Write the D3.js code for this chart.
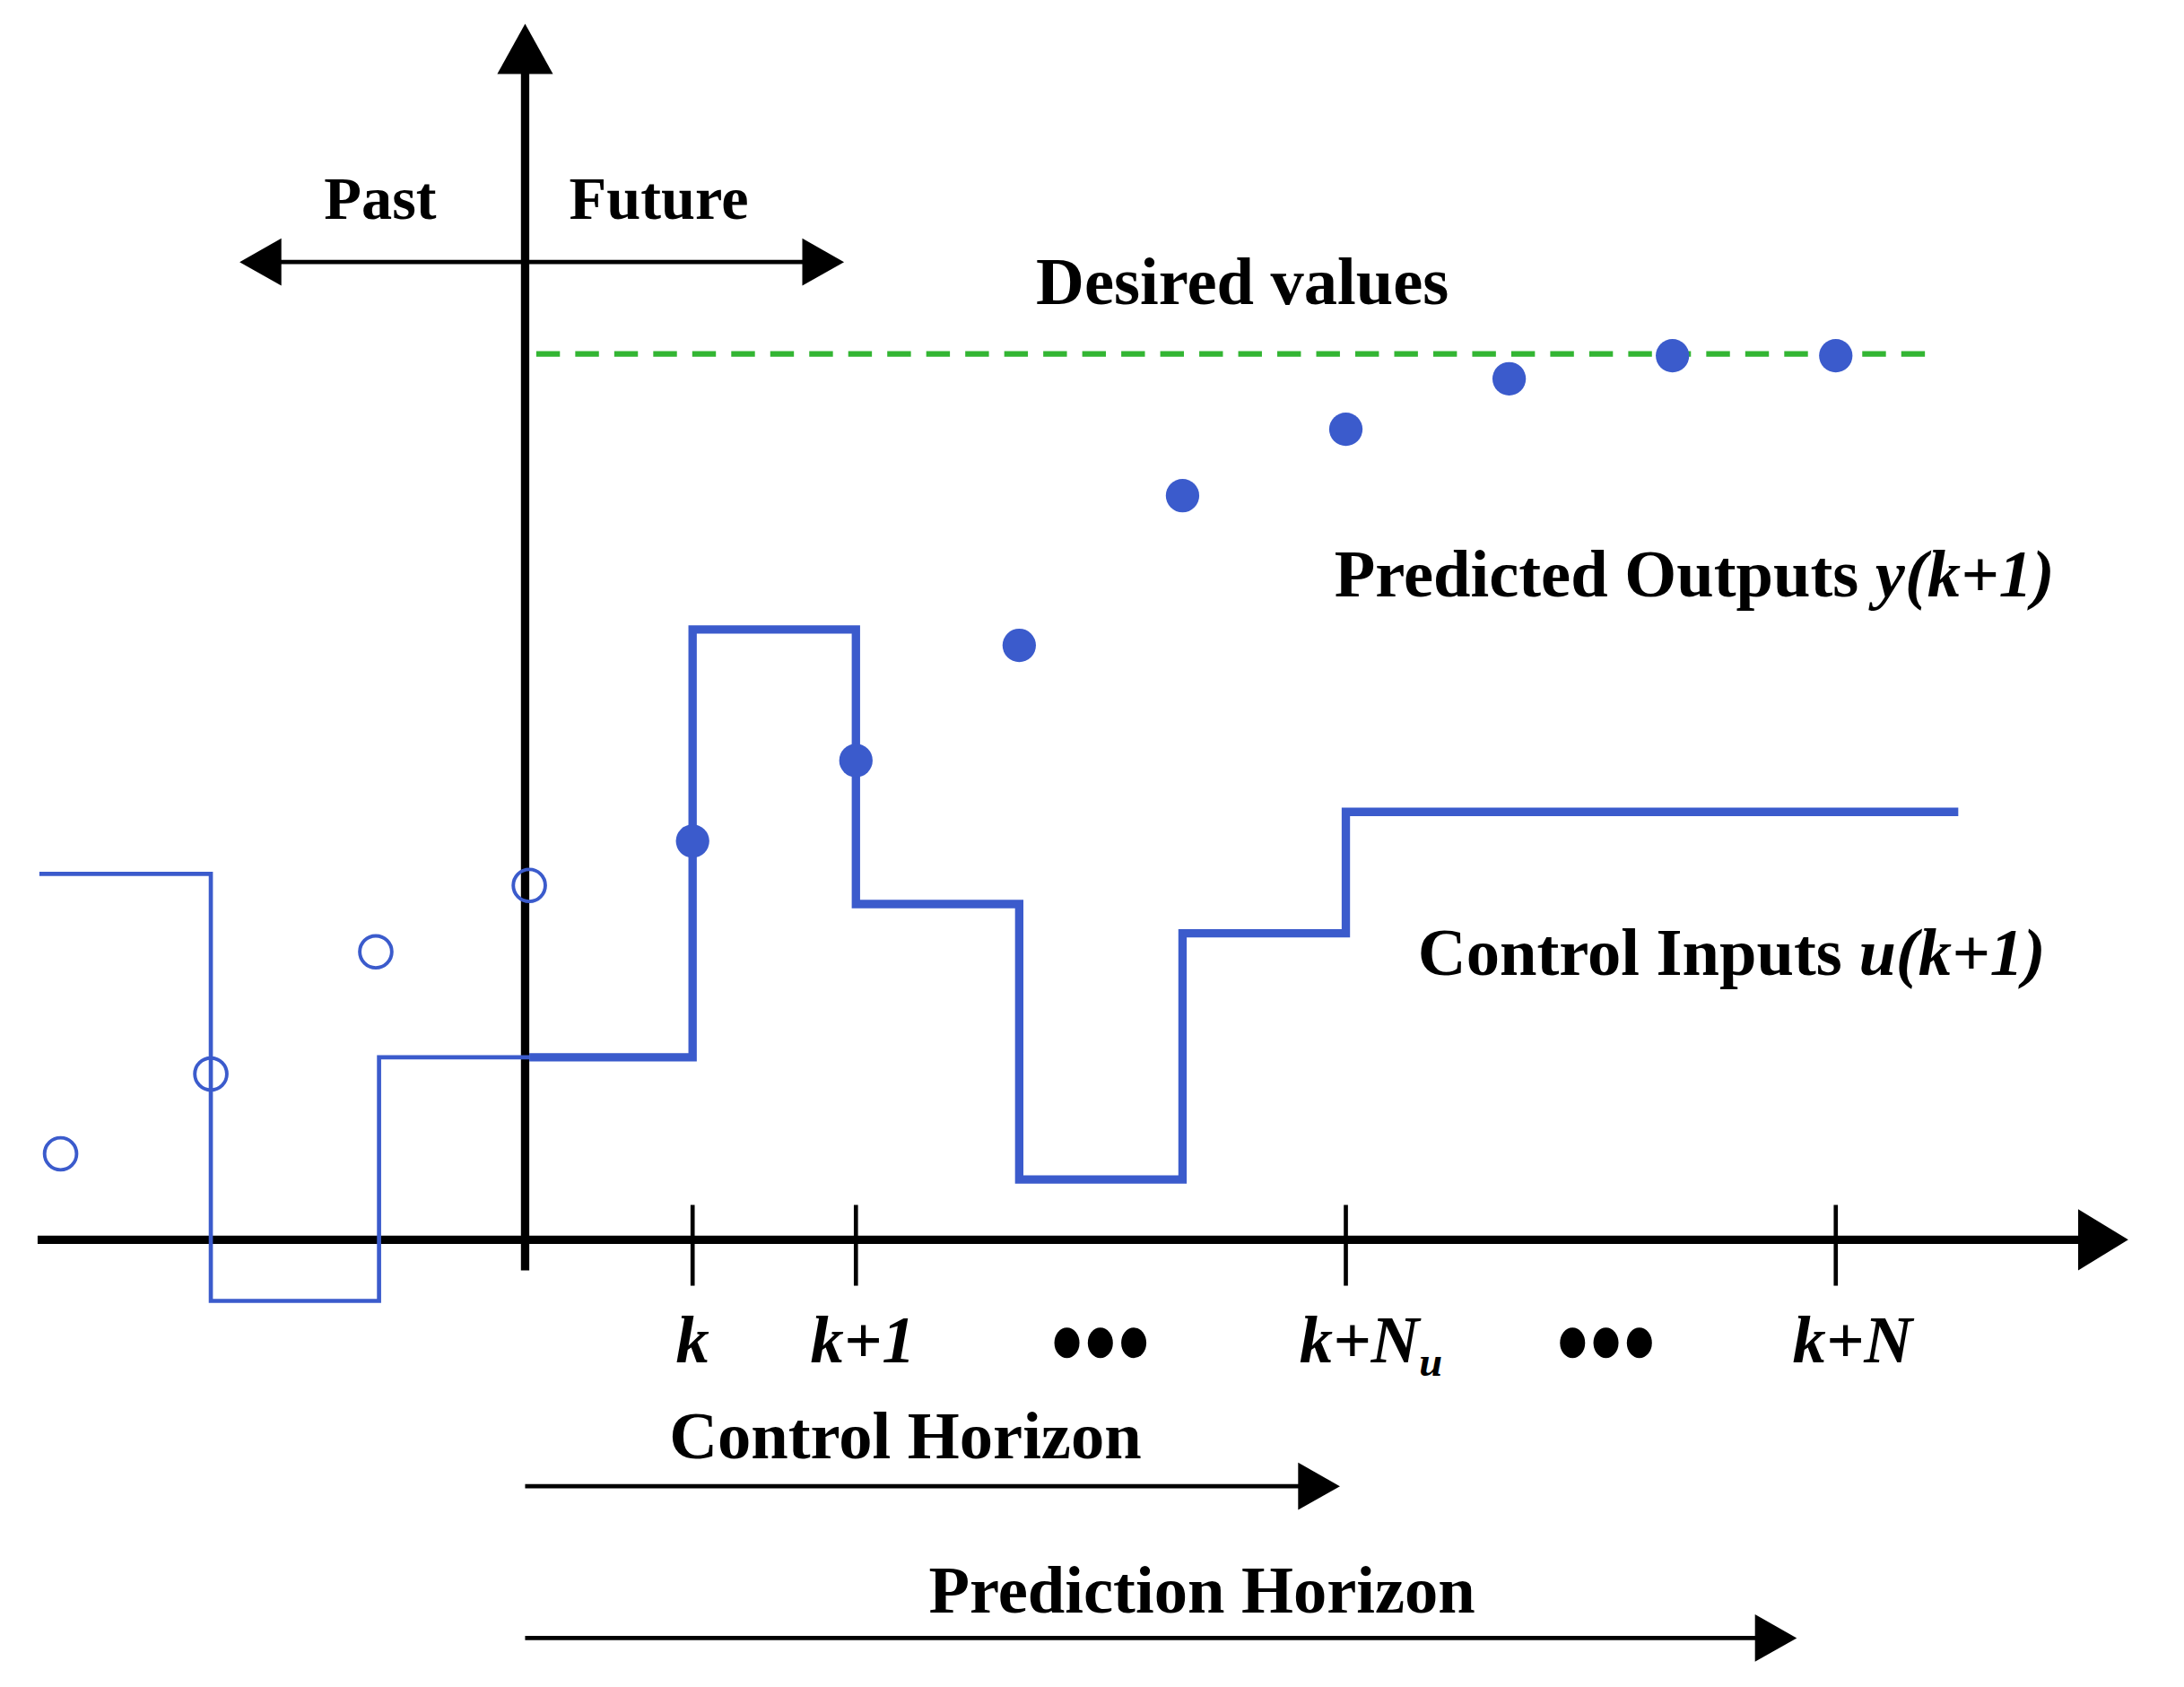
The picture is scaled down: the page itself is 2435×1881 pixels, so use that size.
<!DOCTYPE html>
<html>
<head>
<meta charset="utf-8">
<script src="https://cdn.jsdelivr.net/npm/d3@7"></script>
<style>
  html, body { margin: 0; background: #fff; }
  text { font-family: "Liberation Serif", "DejaVu Serif", serif; font-weight: bold; fill: #000; }
</style>
</head>
<body>
<div class="graph-container"></div>
<script>
// step index (time) and values
const pastSteps = [-3, -1.95, -0.92, 0];
const pastInputs = [4.13, -0.69, 2.06];
const futureSteps = [0, 1, 2, 3, 4, 5, 8.75];
const futureInputs = [2.06, 6.89, 3.79, 0.68, 3.46, 4.83];
const pastOutT = [-2.87, -1.95, -0.94, 0];
const pastOutputs = [0.97, 1.87, 3.25, 4.0];
const predT = [1, 2, 3, 4, 5, 6, 7, 8];
const predOutputs = [4.5, 5.41, 6.71, 8.4, 9.15, 9.72, 9.98, 9.98];
const desiredValue = 10;
const tickSteps = [1, 2, 5, 8];
const tickLabels = ['k', 'k+1', 'k+N', 'k+N'];

const W = 1568, H = 1211;
const blue = '#3b5bcc';

const svg = d3.select('.graph-container').append('svg')
  .attr('width', 2435).attr('height', 1881)
  .attr('viewBox', `0 0 ${W} ${H}`);

const x = d3.scaleLinear().domain([0, 8]).range([380, 1318]);
const y = d3.scaleLinear().domain([0, 10]).range([890, 254]);
const x0 = 377, y0 = 890;

function arrow(x1, y1, x2, y2, w, len, half) {
  svg.append('line').attr('x1', x1).attr('y1', y1).attr('x2', x2).attr('y2', y2)
     .attr('stroke', '#000').attr('stroke-width', w);
}
function head(tx, ty, dir, len, half) {
  // dir: 'r','l','u'
  let p;
  if (dir === 'r') p = [[tx, ty], [tx - len, ty - half], [tx - len, ty + half]];
  if (dir === 'l') p = [[tx, ty], [tx + len, ty - half], [tx + len, ty + half]];
  if (dir === 'u') p = [[tx, ty], [tx - half, ty + len], [tx + half, ty + len]];
  svg.append('polygon').attr('points', p.join(' ')).attr('fill', '#000');
}

// desired line
svg.append('line').attr('x1', 385).attr('x2', 1385)
   .attr('y1', y(desiredValue)).attr('y2', y(desiredValue))
   .attr('stroke', '#33b533').attr('stroke-width', 4).attr('stroke-dasharray', '17,11');

// axes
arrow(27, y0, 1495, y0, 6);
head(1528, y0, 'r', 36, 22);
arrow(x0, 912, x0, 45, 6);
head(x0, 17, 'u', 36, 20);

tickSteps.forEach(t => {
  svg.append('line').attr('x1', x(t)).attr('x2', x(t)).attr('y1', 865).attr('y2', 923)
     .attr('stroke', '#000').attr('stroke-width', 3);
});

// control inputs
const stepPath = (ts, vs) => {
  const pts = [];
  vs.forEach((v, i) => { pts.push([x(ts[i]), y(v)]); pts.push([x(ts[i + 1]), y(v)]); });
  return d3.line()(pts);
};
svg.append('path').attr('d', stepPath(pastSteps, pastInputs))
   .attr('fill', 'none').attr('stroke', blue).attr('stroke-width', 3);
svg.append('path').attr('d', stepPath(futureSteps, futureInputs))
   .attr('fill', 'none').attr('stroke', blue).attr('stroke-width', 6);

// outputs
svg.selectAll('.past').data(pastOutputs).join('circle')
   .attr('cx', (d, i) => x(pastOutT[i])).attr('cy', d => y(d)).attr('r', 11.5)
   .attr('fill', 'none').attr('stroke', blue).attr('stroke-width', 2.5);
svg.selectAll('.pred').data(predOutputs).join('circle')
   .attr('cx', (d, i) => x(predT[i])).attr('cy', d => y(d)).attr('r', 12)
   .attr('fill', blue);

// past / future arrow
arrow(200, 188, 578, 188, 3);
head(172, 188, 'l', 30, 17);
head(606, 188, 'r', 30, 17);

// horizon arrows
arrow(377, 1067, 935, 1067, 3);
head(962, 1067, 'r', 30, 17);
arrow(377, 1176, 1262, 1176, 3);
head(1290, 1176, 'r', 30, 17);

// texts
const txt = (s, tx, ty, anchor, size) => svg.append('text').attr('x', tx).attr('y', ty)
  .attr('text-anchor', anchor || 'start').attr('font-size', size || 46).text(s);
txt('Past', 273, 157, 'middle', 44);
txt('Future', 473, 157, 'middle', 44);
txt('Desired values', 892, 218, 'middle', 48);
const p = txt('Predicted Outputs ', 958, 428, 'start', 48);
p.append('tspan').attr('font-style', 'italic').text('y(k+1)');
const c = txt('Control Inputs ', 1018, 700, 'start', 48);
c.append('tspan').attr('font-style', 'italic').text('u(k+1)');
txt('Control Horizon', 650, 1047, 'middle', 48);
txt('Prediction Horizon', 863, 1158, 'middle', 48);

// tick labels
tickSteps.forEach((t, i) => {
  const el = svg.append('text').attr('x', x(t)).attr('y', 978).attr('text-anchor', 'middle')
    .attr('font-size', 48).attr('font-style', 'italic').text(tickLabels[i]);
  if (i === 2) {
    el.attr('x', x(t) + 18);
    el.append('tspan').attr('font-size', 30).attr('dy', 10).text('u');
  }
  if (i === 3) el.attr('x', x(t) + 12);
  if (i === 1) el.attr('x', x(t) + 5);
});
[790, 1153].forEach(cx => {
  [-24, 0, 24].forEach(dx => svg.append('ellipse').attr('cx', cx + dx).attr('cy', 964)
    .attr('rx', 9).attr('ry', 11).attr('fill', '#000'));
});
</script>
</body>
</html>
